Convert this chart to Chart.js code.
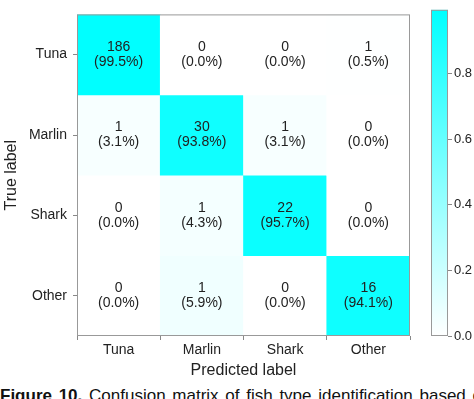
<!DOCTYPE html>
<html>
<head>
<meta charset="utf-8">
<script src="https://cdn.jsdelivr.net/npm/chart.js@4/dist/chart.umd.min.js"></script>
<style>
  body { margin: 0; background: #fff; width: 474px; height: 399px; overflow: hidden; position: relative; font-family: "Liberation Sans", Arial, sans-serif; }
  #main { position: absolute; left: 0; top: 0; }
  #cbar { position: absolute; left: 420px; top: 0; }
  #caption { position: absolute; left: 0; top: 386px; font-family: "Liberation Sans", Arial, sans-serif; font-size: 17px; color: #111; white-space: nowrap; word-spacing: 2px; }
</style>
</head>
<body>
<canvas id="main" width="420" height="380"></canvas>
<canvas id="cbar" width="54" height="380"></canvas>
<div id="caption"><b>Figure 10.</b> Confusion matrix of fish type identification based on</div>
<script>
// --- données ---
const trueLabels = ['Tuna', 'Marlin', 'Shark', 'Other'];
const predLabels = ['Tuna', 'Marlin', 'Shark', 'Other'];

// comptes par ligne (vraie classe)
const rowTuna   = [186, 0, 0, 1];
const rowMarlin = [1, 30, 1, 0];
const rowShark  = [0, 1, 22, 0];
const rowOther  = [0, 1, 0, 16];
const counts = [rowTuna, rowMarlin, rowShark, rowOther];

// graduations de la barre de couleur
const cbarTicks = [0.0, 0.2, 0.4, 0.6, 0.8];

// normalisation par ligne
const rates = counts.map(row => {
    const tot = row.reduce((a, b) => a + b, 0);
    return row.map(v => v / tot);
});
const maxRate = Math.max(...rates.flat());

const FONT = '"Liberation Sans", Arial, sans-serif';

function cellColor(v) {
    const t = v / maxRate;
    const r = Math.round(255 * (1 - t));
    return 'rgb(' + r + ',255,255)';
}

// un dataset par ligne : barres flottantes [i, i+1]
const datasets = counts.map((row, i) => ({
    label: trueLabels[i],
    data: row.map(() => [i, i + 1]),
    backgroundColor: rates[i].map(cellColor),
    borderWidth: 0,
    barPercentage: 1,
    categoryPercentage: 1,
    grouped: false
}));

// texte dans les cases + cadre
const cellText = {
    id: 'cellText',
    afterDatasetsDraw(chart) {
        const ctx = chart.ctx;
        ctx.save();
        ctx.fillStyle = '#222';
        ctx.font = '14px ' + FONT;
        ctx.textAlign = 'center';
        ctx.textBaseline = 'middle';
        chart.data.datasets.forEach((ds, i) => {
            chart.getDatasetMeta(i).data.forEach((bar, j) => {
                const cx = bar.x;
                const cy = (bar.y + bar.base) / 2;
                ctx.fillText(String(counts[i][j]), cx, cy - 7.5);
                ctx.fillText('(' + (rates[i][j] * 100).toFixed(1) + '%)', cx, cy + 7.5);
            });
        });
        const a = chart.chartArea;
        ctx.strokeStyle = '#999';
        ctx.lineWidth = 1;
        ctx.strokeRect(a.left + 0.5, a.top + 0.5, a.right - a.left - 1, a.bottom - a.top - 1);
        ctx.restore();
    }
};

new Chart(document.getElementById('main'), {
    type: 'bar',
    data: { labels: predLabels, datasets: datasets },
    options: {
        responsive: false,
        animation: false,
        layout: { padding: { top: 3, right: 10, left: 0, bottom: 0 } },
        plugins: { legend: { display: false }, tooltip: { enabled: false } },
        scales: {
            x: {
                grid: { drawOnChartArea: false, tickLength: 4, color: '#888' },
                border: { display: false },
                ticks: { color: '#222', font: { size: 14, family: FONT }, padding: 2 },
                title: { display: true, text: 'Predicted label', color: '#222', font: { size: 16, family: FONT }, padding: { top: 0, bottom: 0 } },
                afterFit: s => { s.height = 44; }
            },
            y: {
                min: 0, max: 4, reverse: true,
                afterBuildTicks: s => { s.ticks = trueLabels.map((_, i) => ({ value: i + 0.5 })); },
                grid: { drawOnChartArea: false, tickLength: 4, color: '#888' },
                border: { display: false },
                ticks: {
                    color: '#222', padding: 6,
                    font: { size: 14, family: FONT },
                    callback: v => trueLabels[Math.floor(v)]
                },
                title: { display: true, text: 'True label', color: '#222', font: { size: 16, family: FONT }, padding: { top: 2, bottom: 0 } },
                afterFit: s => { s.width = 77; }
            }
        }
    },
    plugins: [cellText]
});

// --- barre de couleur ---
const cbarFrame = {
    id: 'cbarFrame',
    afterDatasetsDraw(chart) {
        const a = chart.chartArea;
        const ctx = chart.ctx;
        ctx.save();
        ctx.strokeStyle = '#999';
        ctx.lineWidth = 1;
        ctx.strokeRect(a.left + 0.5, a.top + 0.5, a.right - a.left - 1, a.bottom - a.top - 1);
        ctx.restore();
    }
};

new Chart(document.getElementById('cbar'), {
    type: 'bar',
    data: {
        labels: [''],
        datasets: [{
            data: [[0, maxRate]],
            barPercentage: 1,
            categoryPercentage: 1,
            borderWidth: 0,
            backgroundColor: ctx => {
                const a = ctx.chart.chartArea;
                if (!a) return '#0ff';
                const g = ctx.chart.ctx.createLinearGradient(0, a.bottom, 0, a.top);
                g.addColorStop(0, cellColor(0));
                g.addColorStop(1, cellColor(maxRate));
                return g;
            }
        }]
    },
    options: {
        responsive: false,
        animation: false,
        layout: { padding: { top: 3, left: 11, right: 0, bottom: 44 } },
        plugins: { legend: { display: false }, tooltip: { enabled: false } },
        scales: {
            x: { display: false },
            y: {
                position: 'right',
                min: 0, max: maxRate,
                afterBuildTicks: s => { s.ticks = cbarTicks.map(v => ({ value: v })); },
                grid: { drawOnChartArea: false, tickLength: 4, color: '#888' },
                border: { display: false },
                ticks: {
                    color: '#222', padding: 2,
                    font: { size: 13, family: FONT },
                    callback: v => v.toFixed(1)
                },
                afterFit: s => { s.width = 26; }
            }
        }
    },
    plugins: [cbarFrame]
});
</script>
</body>
</html>
